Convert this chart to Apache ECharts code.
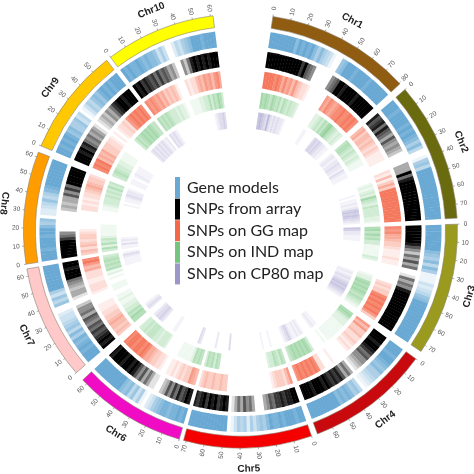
<!DOCTYPE html>
<html><head><meta charset="utf-8">
<script src="https://cdn.jsdelivr.net/npm/echarts@6/dist/echarts.min.js"></script>
<style>html,body{margin:0;padding:0;background:#fff}#c{width:474px;height:474px;filter:blur(0.3px)}</style>
</head><body><div id="c"></div>
<script>
const chrNames = ['Chr1','Chr2','Chr3','Chr4','Chr5','Chr6','Chr7','Chr8','Chr9','Chr10'];
const chrLengths = [80.6,77.7,74,69,71.5,63,64,62.7,60,61.5];
const chrStartAngles = [8.6,49.3,88.2,126.1,160.9,196.4,229.2,261.2,293.1,323.2];
const chrColors = ['#8f5c12','#6a6a0e','#9a9a1e','#c80a0e','#f40000','#f00cc4','#ffc9c9','#ff9c00','#ffc800','#ffff00'];
const chrTicks = [80,70,70,60,70,60,60,60,50,60];
const chrLabelAngles = [28,68,106,142.5,178,211.6,244,276.7,307,338];
// density per 2 Mb bin, 0 (none) to 9 (solid), one row per chromosome
const geneModels = [
[9,9,9,9,9,9,9,9,7,9,8,9,8,9,7,5,7,5,4,3,1,0,0,6,7,9,9,9,8,9,9,9,9,8,9,9,9,9,9,9,9],
[9,9,9,8,9,9,9,9,8,9,8,9,8,7,5,7,4,0,0,1,5,6,4,9,9,9,9,9,9,9,9,9,9,9,9,9,9,9,9],
[9,9,9,9,9,9,9,9,7,6,5,7,4,7,5,1,1,1,3,2,3,4,6,7,9,9,9,9,9,9,9,9,9,9,9,9,9],
[9,9,9,8,9,9,8,7,6,7,5,5,4,3,2,1,0,4,6,5,7,8,7,8,7,9,9,9,9,9,9,9,9,9,9],
[9,9,8,9,9,9,8,9,8,8,9,7,5,6,5,3,5,2,5,4,5,3,1,0,9,9,9,9,9,9,9,9,9,9,9,9],
[9,8,9,8,8,7,8,8,7,6,5,3,2,0,1,5,3,6,4,7,6,7,9,9,9,9,9,9,9,9,9,9],
[9,9,9,8,9,8,7,8,5,7,4,6,5,4,3,3,2,0,0,6,4,6,3,5,9,9,9,9,9,9,9,9],
[9,9,9,8,9,9,9,8,9,9,7,5,6,0,2,2,3,4,6,4,5,7,8,9,9,9,9,9,9,9,9],
[9,9,8,9,8,9,8,6,7,5,5,6,3,4,0,1,3,5,4,6,7,6,8,9,8,9,8,9,9,9],
[9,8,9,8,8,9,8,7,8,7,7,6,3,5,3,0,0,2,4,3,5,6,7,9,9,9,8,9,9,9,9]];
const snpsArray = [
[9,9,9,9,9,9,9,9,9,9,9,9,7,9,6,5,4,0,0,0,0,0,0,4,5,6,9,9,8,9,9,9,9,8,9,9,9,9,9,9,9],
[8,6,7,8,5,8,6,5,3,6,4,3,4,3,2,0,0,0,0,3,3,3,9,5,8,9,9,9,9,9,9,9,9,9,9,9,9,9,9],
[9,9,9,9,9,9,8,6,4,2,5,3,6,3,5,0,0,1,5,3,5,4,8,9,9,9,9,9,9,9,9,9,9,9,9,9,9],
[9,9,9,8,9,9,8,7,5,6,4,4,3,2,1,0,3,5,3,6,8,7,8,7,8,9,8,9,9,9,8,9,9,9,9],
[9,9,8,8,7,8,7,7,5,6,4,3,0,0,0,3,5,4,6,3,5,3,1,0,8,9,8,7,9,8,9,7,9,8,7,8],
[8,9,7,6,8,5,7,4,6,3,2,0,0,1,1,3,5,3,6,4,6,8,9,8,9,9,8,9,9,9,8,9],
[9,8,9,8,7,6,7,5,6,4,5,6,3,5,4,4,2,0,0,1,3,3,2,3,4,5,9,9,9,8,9,9],
[9,9,9,9,9,9,7,5,4,0,0,0,0,0,0,0,2,3,2,3,3,6,4,7,5,9,9,9,9,9,9],
[9,9,9,8,9,7,8,5,4,5,3,4,3,1,0,1,2,3,2,4,3,5,7,8,9,9,8,9,9,9],
[9,8,9,7,8,7,6,7,5,7,5,6,5,3,4,2,0,0,4,2,5,8,9,8,9,8,9,8,9,9,9]];
const snpsGG = [
[8,8,8,8,7,8,7,5,7,5,6,4,6,4,3,2,2,1,0,0,0,0,0,0,0,6,5,7,6,5,6,7,7,8,7,7,8,7,8,7,6],
[4,5,3,4,4,3,4,3,2,3,2,1,1,1,1,0,0,0,0,2,1,4,1,3,5,3,8,8,8,8,8,8,8,8,8,8,8,8,8],
[7,6,7,5,5,4,3,3,2,1,1,1,2,1,1,0,0,0,0,0,0,0,2,3,2,3,3,7,8,7,8,7,8,7,8,6,3],
[6,4,6,3,3,4,2,2,3,2,1,2,1,0,0,0,0,0,0,1,0,0,0,2,2,7,8,7,8,7,8,7,8,7,6],
[6,4,2,3,3,3,2,1,0,0,0,0,0,0,0,0,0,0,0,0,0,0,0,0,0,3,3,4,3,3,4,3,3,4,3,2],
[4,5,6,3,3,2,3,2,1,2,1,1,0,0,1,2,2,3,3,4,5,5,7,8,7,8,8,7,8,8,7,8],
[3,4,3,4,4,5,4,3,3,2,2,1,1,1,0,0,0,0,1,2,2,2,1,1,2,2,2,5,4,6,8,7],
[3,4,2,4,3,2,3,3,2,1,0,0,0,0,0,0,0,2,2,1,2,1,2,2,3,4,5,4,3,3,2],
[7,8,7,8,4,5,4,5,3,3,3,2,2,1,0,1,0,1,2,2,3,2,6,7,8,7,8,7,8,7],
[7,6,7,6,5,6,4,5,3,4,3,4,3,1,0,0,0,2,1,2,2,4,5,4,6,5,6,4,6,7,5]];
const snpsIND = [
[6,5,6,5,4,6,5,4,5,3,5,4,3,4,3,3,2,0,0,0,0,0,0,0,0,2,2,3,4,3,5,4,6,7,5,4,3,2,3,2,1],
[4,5,5,4,3,4,3,2,3,2,1,1,1,0,0,0,0,0,0,0,0,1,2,1,2,3,2,6,4,3,2,4,3,3,3,3,2,2,1],
[5,6,4,6,4,5,3,3,1,1,1,1,1,3,2,0,0,0,0,0,0,1,2,2,5,6,5,6,5,6,5,4,5,4,3,2,1],
[5,6,5,3,2,2,2,1,1,1,1,1,1,1,1,1,0,1,0,0,0,0,0,3,5,6,5,6,5,6,5,6,5,4,3],
[4,5,3,4,5,3,3,2,0,0,0,0,0,0,0,0,0,0,0,0,0,0,0,0,0,0,0,0,0,4,5,3,5,4,5,3],
[4,5,4,5,2,1,1,1,1,1,1,0,0,0,0,0,0,2,3,3,3,2,3,3,4,4,4,3,4,3,3,2],
[5,5,6,4,5,3,3,2,2,1,1,2,1,1,0,0,1,1,1,0,0,1,0,2,1,5,4,5,4,5,4,3],
[3,5,2,5,3,4,2,1,1,1,1,1,0,0,0,0,0,0,1,1,2,3,3,3,4,3,4,3,5,3,4],
[3,4,5,4,3,3,2,2,1,1,1,1,0,0,0,0,0,0,3,5,4,5,6,5,6,5,6,5,4,4],
[5,4,5,4,5,4,3,3,3,2,3,2,2,1,0,0,1,1,1,1,2,2,3,3,5,3,5,4,6,5,3]];
const snpsCP80 = [
[5,6,5,4,3,6,3,2,3,2,3,2,2,1,0,0,0,0,0,0,0,0,0,0,1,1,0,0,0,0,0,3,4,3,4,3,2,2,1,1,0],
[1,2,2,1,2,2,3,2,2,1,3,2,1,1,1,0,0,0,0,0,0,0,0,0,1,0,1,1,2,1,2,4,5,4,5,4,3,2,1],
[5,4,2,2,1,1,1,0,0,0,0,0,0,0,0,0,0,0,0,0,0,0,1,2,1,2,3,2,3,4,5,4,5,4,3,2,1],
[0,0,0,0,0,0,0,0,0,0,0,0,0,0,0,1,1,2,1,0,0,0,0,1,2,1,2,1,1,2,4,3,2,1,0],
[0,0,0,0,1,0,0,0,1,0,0,0,0,0,0,0,0,0,0,0,0,0,0,0,0,3,0,0,0,0,0,0,2,0,0,0],
[0,0,0,2,3,0,0,0,0,0,0,0,0,0,0,0,0,1,1,0,0,0,0,0,0,2,3,4,3,3,2,1],
[2,3,2,1,0,0,0,0,0,0,0,0,0,0,0,0,0,0,0,0,0,0,0,0,0,1,1,1,1,2,3,1],
[1,1,3,1,2,1,0,0,0,0,0,0,0,0,0,0,0,0,0,0,0,0,1,0,1,1,2,3,2,2,1],
[1,1,1,0,1,2,1,1,1,1,0,0,0,0,0,0,0,0,0,2,3,2,3,2,3,2,3,2,1,2],
[3,2,3,2,1,0,0,0,0,0,0,0,0,0,0,0,0,0,0,0,0,0,0,0,0,1,2,3,3,4,3]];
const trackNames = ['Gene models','SNPs from array','SNPs on GG map','SNPs on IND map','SNPs on CP80 map'];
const trackValues = [geneModels,snpsArray,snpsGG,snpsIND,snpsCP80];
const trackColors = ['#69a9d4','#000000','#f4684a','#76c57f','#9b97c8'];
const trackRadii = [[185,201],[165,181],[144,161],[124,140],[103,120]];
const degPerMb = 0.48, binMb = 2, ringRadii = [205,217], seamOverlap = 0.12;

const mbToAngle = (c, mb) => chrStartAngles[c] + mb * degPerMb;
// opaque tint of a track colour, so neighbouring cells can overlap without seams
function tint(hex, lvl) {
  const f = lvl / 9, n = parseInt(hex.slice(1), 16);
  const ch = s => Math.round(255 + (((n >> s) & 255) - 255) * f);
  return `rgb(${ch(16)},${ch(8)},${ch(0)})`;
}
function sectorFrom(params, api, r0, r, a0, a1) {
  const cs = params.coordSys, p0 = api.coord([r, a0]), p1 = api.coord([r, a1]);
  return {cx: cs.cx, cy: cs.cy, r0, r,
    startAngle: Math.atan2(p0[1]-cs.cy, p0[0]-cs.cx),
    endAngle: Math.atan2(p1[1]-cs.cy, p1[0]-cs.cx), clockwise: true};
}
const series = trackNames.map((name, t) => {
  const data = [];
  trackValues[t].forEach((row, c) => row.forEach((lvl, b) => {
    if (!lvl) return;
    const end = Math.min((b + 1) * binMb, chrLengths[c]);
    const next = row[b + 1];
    const over = next ? Math.min(seamOverlap, chrLengths[c] - end) : 0;
    data.push([trackRadii[t][1], mbToAngle(c, b * binMb), mbToAngle(c, end) + over, lvl]);
  }));
  return {
    type: 'custom', name, coordinateSystem: 'polar', silent: true,
    itemStyle: {color: trackColors[t]}, clip: false, data,
    renderItem(params, api) {
      return {type: 'sector',
        shape: sectorFrom(params, api, trackRadii[t][0], trackRadii[t][1], api.value(1), api.value(2)),
        style: {fill: tint(trackColors[t], api.value(3))}};
    }
  };
});
// chromosome ring
series.push({
  type: 'custom', coordinateSystem: 'polar', silent: true, clip: false,
  data: chrNames.map((n, c) => [ringRadii[1], mbToAngle(c, 0), mbToAngle(c, chrLengths[c]), c]),
  renderItem(params, api) {
    return {type: 'sector',
      shape: sectorFrom(params, api, ringRadii[0], ringRadii[1], api.value(1), api.value(2)),
      style: {fill: chrColors[api.value(3)], stroke: '#8a8270', lineWidth: 0.6}};
  }
});
// ticks and their labels
const tickData = [];
chrTicks.forEach((top, c) => { for (let m = 0; m <= top; m += 10) tickData.push([ringRadii[1], mbToAngle(c, m), m]); });
series.push({
  type: 'custom', coordinateSystem: 'polar', silent: true, clip: false, data: tickData,
  renderItem(params, api) {
    const a = api.value(1), p0 = api.coord([ringRadii[1], a]), p1 = api.coord([ringRadii[1] + 2, a]), t = api.coord([ringRadii[1] + 8, a]);
    const deg = a < 180 ? a - 90 : a - 270;
    return {type: 'group', children: [
      {type: 'line', shape: {x1: p0[0], y1: p0[1], x2: p1[0], y2: p1[1]}, style: {stroke: '#777', lineWidth: 0.6}},
      {type: 'text', x: t[0], y: t[1], rotation: -deg * Math.PI / 180,
        style: {text: String(api.value(2)), fill: '#555', font: '6.5px "Liberation Sans"', align: 'center', verticalAlign: 'middle'}}
    ]};
  }
});
// chromosome names
series.push({
  type: 'custom', coordinateSystem: 'polar', silent: true, clip: false,
  data: chrNames.map((n, c) => [238, chrLabelAngles[c], c]),
  renderItem(params, api) {
    const a = api.value(1), t = api.coord([238, a]);
    const deg = (a > 90 && a < 280) ? a - 180 : a;
    return {type: 'text', x: t[0], y: t[1], rotation: -deg * Math.PI / 180,
      style: {text: chrNames[api.value(2)], fill: '#222', font: 'bold 10px "Liberation Sans"', align: 'center', verticalAlign: 'middle'}};
  }
});
const chart = echarts.init(document.getElementById('c'), null, {renderer: 'canvas'});
chart.setOption({
  animation: false, backgroundColor: '#fff',
  polar: {center: [240.5, 231], radius: 250},
  angleAxis: {type: 'value', min: 0, max: 360, startAngle: 90, clockwise: true, show: false},
  radiusAxis: {type: 'value', min: 0, max: 250, show: false},
  legend: {left: 175, top: 177, padding: 0, orient: 'vertical', icon: 'rect', itemWidth: 5, itemHeight: 21, itemGap: 0.6,
    selectedMode: false, data: trackNames,
    textStyle: {fontFamily: 'Lato', fontSize: 16, color: '#222', padding: [0, 0, 0, 2]}},
  series
});
</script></body></html>
